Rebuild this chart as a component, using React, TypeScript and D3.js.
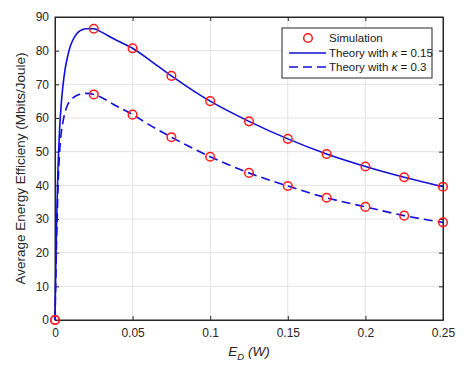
import React, { useEffect, useRef } from 'react';
import * as d3 from 'd3';

// Theory curves
const curveX = [0, 0.0005, 0.001, 0.0015, 0.002, 0.003, 0.004, 0.005, 0.0065, 0.008, 0.01, 0.0125, 0.015, 0.0175, 0.02, 0.025, 0.03, 0.0375, 0.05, 0.0625, 0.075, 0.0875, 0.1, 0.125, 0.15, 0.175, 0.2, 0.225, 0.25];
const theory015 = [0, 15, 28, 38, 46, 57, 64, 69, 74.5, 78, 81.5, 84, 85.5, 86.2, 86.5, 86.5, 85.5, 83.6, 80.7, 76.7, 72.5, 68.6, 65, 59, 53.8, 49.3, 45.6, 42.4, 39.6];
const theory03 = [0, 12, 23, 32, 40, 50, 55.5, 58.5, 61.8, 63.8, 65.2, 66.3, 66.9, 67.2, 67.3, 67, 66.1, 64.1, 61, 57.5, 54.3, 51.3, 48.5, 43.7, 39.8, 36.3, 33.6, 31, 29];

// Simulation points
const simX = [0, 0.025, 0.05, 0.075, 0.1, 0.125, 0.15, 0.175, 0.2, 0.225, 0.25];
const sim015 = [0, 86.5, 80.7, 72.5, 65, 59, 53.8, 49.3, 45.6, 42.4, 39.6];
const sim03 = [0, 67, 61, 54.3, 48.5, 43.7, 39.8, 36.3, 33.6, 31, 29];

const xTicks = [0, 0.05, 0.1, 0.15, 0.2, 0.25];
const yTicks = [0, 10, 20, 30, 40, 50, 60, 70, 80, 90];

export default function App() {
  const svgRef = useRef<SVGSVGElement>(null);

  useEffect(() => {
    if (!svgRef.current) return;
    const root = d3.select(svgRef.current);
    root.selectAll('*').remove();

    const margin = { top: 17, right: 31, bottom: 45, left: 55 },
      width = 474 - margin.left - margin.right,
      height = 365 - margin.top - margin.bottom;
    const font = 'Helvetica, Arial, "Liberation Sans", sans-serif';
    const blue = '#0f0fd8';

    root.append('rect').attr('width', 474).attr('height', 365).attr('fill', '#fff');

    const svg = root.append('g').attr('transform', 'translate(' + margin.left + ',' + margin.top + ')');

    const x = d3.scaleLinear().domain([0, 0.25]).range([0, width]);
    const y = d3.scaleLinear().domain([0, 90]).range([height, 0]);

    // grid
    svg.append('g').selectAll('line').data(xTicks.slice(1, -1)).enter().append('line')
      .attr('x1', d => x(d)).attr('x2', d => x(d)).attr('y1', 0).attr('y2', height)
      .attr('stroke', '#e3e3e3').attr('stroke-width', 1);
    svg.append('g').selectAll('line').data(yTicks.slice(1, -1)).enter().append('line')
      .attr('y1', d => y(d)).attr('y2', d => y(d)).attr('x1', 0).attr('x2', width)
      .attr('stroke', '#e3e3e3').attr('stroke-width', 1);

    // axes with inward ticks
    const xAxis = svg.append('g').attr('transform', 'translate(0,' + height + ')')
      .call(d3.axisBottom(x).tickValues(xTicks).tickFormat(d => String(+d)).tickSize(-4).tickPadding(8).tickSizeOuter(0));
    const xAxisTop = svg.append('g')
      .call(d3.axisTop(x).tickValues(xTicks).tickFormat(() => '').tickSize(-4).tickSizeOuter(0));
    const yAxis = svg.append('g')
      .call(d3.axisLeft(y).tickValues(yTicks).tickSize(-4).tickPadding(6).tickSizeOuter(0));
    const yAxisRight = svg.append('g').attr('transform', 'translate(' + width + ',0)')
      .call(d3.axisRight(y).tickValues(yTicks).tickFormat(() => '').tickSize(-4).tickSizeOuter(0));
    [xAxis, xAxisTop, yAxis, yAxisRight].forEach(a => {
      a.selectAll('path').attr('stroke', '#262626');
      a.selectAll('line').attr('stroke', '#262626');
      a.selectAll('text').style('font-family', font).style('font-size', '12px').attr('fill', '#262626');
    });

    // box
    svg.append('rect').attr('width', width).attr('height', height)
      .attr('fill', 'none').attr('stroke', '#262626').attr('stroke-width', 1);

    // theory lines
    const line = d3.line<number>().x((d, i) => x(curveX[i])).y(d => y(d)).curve(d3.curveMonotoneX);
    svg.append('path').datum(theory015).attr('d', line).attr('fill', 'none')
      .attr('stroke', blue).attr('stroke-width', 1.6);
    svg.append('path').datum(theory03).attr('d', line).attr('fill', 'none')
      .attr('stroke', blue).attr('stroke-width', 1.6).attr('stroke-dasharray', '9,5');

    // simulation markers
    [sim015, sim03].forEach(series => {
      svg.append('g').selectAll('circle').data(series).enter().append('circle')
        .attr('cx', (d, i) => x(simX[i])).attr('cy', d => y(d)).attr('r', 4.3)
        .attr('fill', 'none').attr('stroke', '#ff1a1a').attr('stroke-width', 1.5);
    });

    // legend
    const lg = root.append('g').attr('transform', 'translate(282,28)');
    lg.append('rect').attr('width', 150).attr('height', 50).attr('fill', '#fff')
      .attr('stroke', '#262626').attr('stroke-width', 1);
    lg.append('circle').attr('cx', 26).attr('cy', 10).attr('r', 4.3)
      .attr('fill', 'none').attr('stroke', '#ff1a1a').attr('stroke-width', 1.5);
    lg.append('line').attr('x1', 7).attr('x2', 44).attr('y1', 25).attr('y2', 25)
      .attr('stroke', blue).attr('stroke-width', 1.6);
    lg.append('line').attr('x1', 7).attr('x2', 44).attr('y1', 39).attr('y2', 39)
      .attr('stroke', blue).attr('stroke-width', 1.6).attr('stroke-dasharray', '9,5');
    const lt = [
      { t: 'Simulation', k: '' },
      { t: 'Theory with ', k: '0.15' },
      { t: 'Theory with ', k: '0.3' },
    ];
    lt.forEach((d, i) => {
      const tx = lg.append('text').attr('x', 47).attr('y', 10 + i * 14.5).attr('dy', '0.35em')
        .style('font-family', font).style('font-size', '11.5px').attr('fill', '#1a1a1a');
      tx.append('tspan').text(d.t);
      if (d.k) {
        tx.append('tspan').style('font-style', 'italic').text('κ');
        tx.append('tspan').text(' = ' + d.k);
      }
    });

    // axis labels
    const xl = root.append('text').attr('x', margin.left + width / 2).attr('y', 356)
      .attr('text-anchor', 'middle').style('font-family', font).style('font-size', '13.5px')
      .attr('fill', '#262626');
    xl.append('tspan').style('font-style', 'italic').text('E');
    xl.append('tspan').style('font-style', 'italic').style('font-size', '9.5px').attr('dy', 4).text('D');
    xl.append('tspan').style('font-style', 'italic').attr('dy', -4).text(' (W)');

    root.append('text').attr('transform', 'translate(20,' + (margin.top + height / 2) + ') rotate(-90)')
      .attr('text-anchor', 'middle').attr('dy', '0.35em').style('font-family', font).style('font-size', '13.5px')
      .attr('fill', '#262626').text('Average Energy Efficieny (Mbits/Joule)');
  }, []);

  return (
    <div style={{ position: 'absolute', left: 0, top: 0 }}>
      <svg ref={svgRef} width={474} height={365} style={{ display: 'block' }} />
    </div>
  );
}
